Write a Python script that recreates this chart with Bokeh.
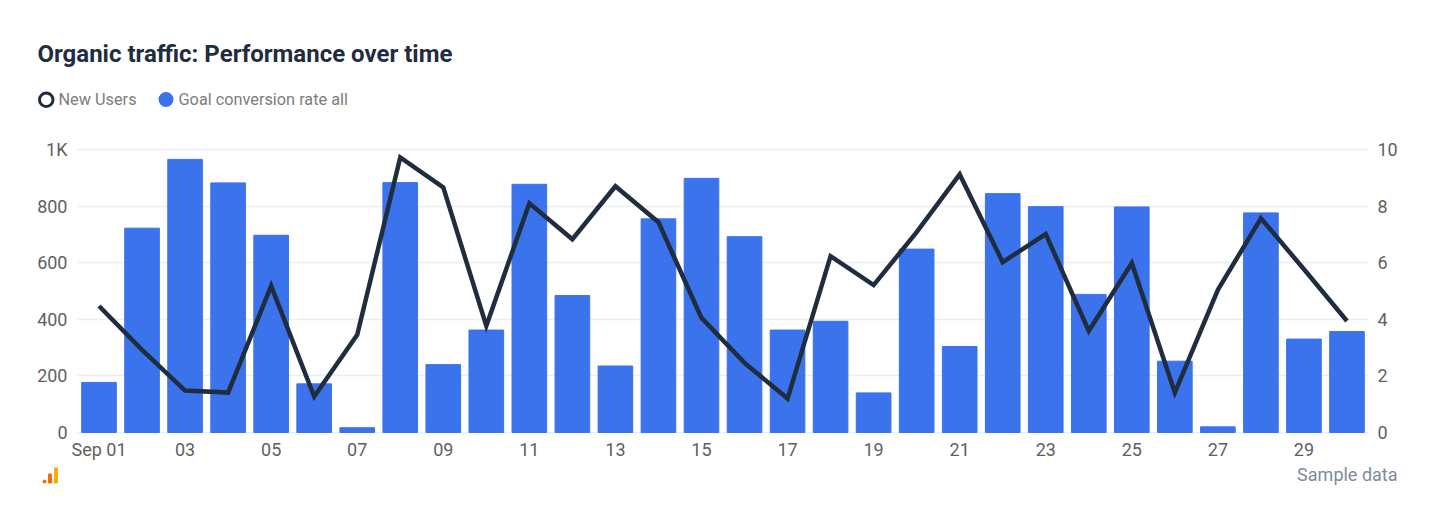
from bokeh.embed import file_html
from bokeh.layouts import column
from bokeh.resources import INLINE
from bokeh.plotting import figure
from bokeh.models import (Range1d, LinearAxis, FixedTicker, Label,
                          BoxAnnotation, ColumnDataSource)

days = list(range(1, 31))
new_users = [447, 292, 148, 141, 518, 127, 345, 972, 866, 377, 810, 683, 870, 743, 405,
             246, 120, 623, 521, 708, 912, 602, 701, 359, 599, 141, 504, 757, 577, 394]
goal_rate = [1.77, 7.22, 9.65, 8.82, 6.97, 1.72, 0.17, 8.83, 2.40, 3.62, 8.77, 4.84, 2.35, 7.55, 8.98,
             6.92, 3.62, 3.93, 1.40, 6.48, 3.04, 8.44, 7.98, 4.88, 7.97, 2.52, 0.20, 7.76, 3.30, 3.57]
x_tick_days = [1, 3, 5, 7, 9, 11, 13, 15, 17, 19, 21, 23, 25, 27, 29]
x_tick_labels = ["Sep 01", "03", "05", "07", "09", "11", "13", "15", "17", "19", "21", "23", "25", "27", "29"]
left_ticks = [0, 200, 400, 600, 800, 1000]
left_labels = ["0", "200", "400", "600", "800", "1K"]
right_ticks = [0, 2, 4, 6, 8, 10]

FONT = "Roboto"
DARK = "#1f2d3f"
BLUE = "#3b73ec"
GRID = "#ebedf0"
TICK = "#5f5f5f"
W = 1436
H_HEAD, H_FOOT = 135, 59
LEFT, TOP, BOTTOM, RIGHT = 77, 149, 433, 1368
H_MAIN = 521 - H_HEAD - H_FOOT
PAD = 2  # pixels of frame kept past both end ticks so the end gridlines show
PAD_VALUE = PAD * 1000 / (BOTTOM - TOP)


def strip():
    return dict(output_backend="svg", toolbar_location=None, x_axis_type=None, y_axis_type=None,
                x_range=Range1d(0, 1), y_range=Range1d(0, 1), min_border=0,
                outline_line_color=None, background_fill_color="white", border_fill_color="white")


head = figure(width=W, height=H_HEAD, **strip())
foot = figure(width=W, height=H_FOOT, **strip())

p = figure(width=W, height=H_MAIN, output_backend="svg", toolbar_location=None,
           x_range=Range1d(0.5, 30.5), y_range=Range1d(-PAD_VALUE, 1000 + PAD_VALUE),
           min_border_left=LEFT, min_border_right=W - RIGHT, min_border_top=TOP - H_HEAD - PAD,
           min_border_bottom=H_HEAD + H_MAIN - BOTTOM - PAD,
           outline_line_color=None, background_fill_color="white", border_fill_color="white")
p.extra_y_ranges = {"rate": Range1d(-PAD_VALUE / 100, 10 + PAD_VALUE / 100)}

src = ColumnDataSource(dict(day=days, users=new_users, rate=goal_rate))
p.vbar(x="day", top="rate", bottom=0, width=0.805, color=BLUE, y_range_name="rate", source=src)
p.line(x="day", y="users", line_color=DARK, line_width=4.5, line_join="miter", source=src)

p.xgrid.visible = False
p.ygrid.grid_line_color = GRID
p.ygrid.grid_line_width = 1.5
p.ygrid.ticker = FixedTicker(ticks=left_ticks)


def style(ax, standoff):
    ax.axis_line_color = None
    ax.major_tick_line_color = None
    ax.minor_tick_line_color = None
    ax.major_label_text_font = FONT
    ax.major_label_text_font_size = "18px"
    ax.major_label_text_color = TICK
    ax.major_label_standoff = standoff


style(p.xaxis[0], -2)
p.xaxis[0].ticker = FixedTicker(ticks=x_tick_days)
p.xaxis[0].major_label_overrides = dict(zip(x_tick_days, x_tick_labels))
style(p.yaxis[0], 4)
p.yaxis[0].ticker = FixedTicker(ticks=left_ticks)
p.yaxis[0].major_label_overrides = dict(zip(left_ticks, left_labels))
right = LinearAxis(y_range_name="rate", ticker=FixedTicker(ticks=right_ticks))
style(right, 3)
p.add_layout(right, "right")


def add_text(fig, top, height, px, py, text, **kw):
    fig.add_layout(Label(x=px, y=top + height - py, x_units="screen", y_units="screen", text=text,
                         text_font=FONT, text_baseline="middle", **kw))


def add_box(fig, top, height, x0, x1, y0, y1, fill, line=None, line_width=0, radius=0):
    bottom = top + height
    fig.add_layout(BoxAnnotation(left=x0, right=x1, top=bottom - y0, bottom=bottom - y1,
                                 left_units="screen", right_units="screen", top_units="screen",
                                 bottom_units="screen", fill_color=fill, fill_alpha=1, line_color=line,
                                 line_alpha=1, line_width=line_width, border_radius=radius))


add_text(head, 0, H_HEAD, 37, 53, "Organic traffic: Performance over time", text_font_size="24px",
         text_font_style="bold", text_color=DARK)
add_text(head, 0, H_HEAD, 58, 99, "New Users", text_font_size="16.3px", text_color="#7d7d7d")
add_text(head, 0, H_HEAD, 178, 99, "Goal conversion rate all", text_font_size="16.3px", text_color="#7d7d7d")
add_box(head, 0, H_HEAD, 39, 52.5, 92.5, 106, "white", DARK, 3, 7)
add_box(head, 0, H_HEAD, 158, 173, 91.5, 106.5, BLUE, None, 0, 8)

ftop = H_HEAD + H_MAIN
add_text(foot, ftop, H_FOOT, 1397, 474, "Sample data", text_align="right", text_font_size="18px",
         text_color="#7f8b99")
add_box(foot, ftop, H_FOOT, 42, 46, 479, 483, "#e8710a", None, 0, 2)
add_box(foot, ftop, H_FOOT, 47.5, 51.5, 473, 483, "#e8710a", None, 0, 1)
add_box(foot, ftop, H_FOOT, 53.5, 57.5, 467, 483, "#f9ab00", None, 0, 1)

page = column(column(head, spacing=0), p, column(foot, spacing=0), spacing=0)
open("out.html", "w").write(file_html(page, INLINE))
